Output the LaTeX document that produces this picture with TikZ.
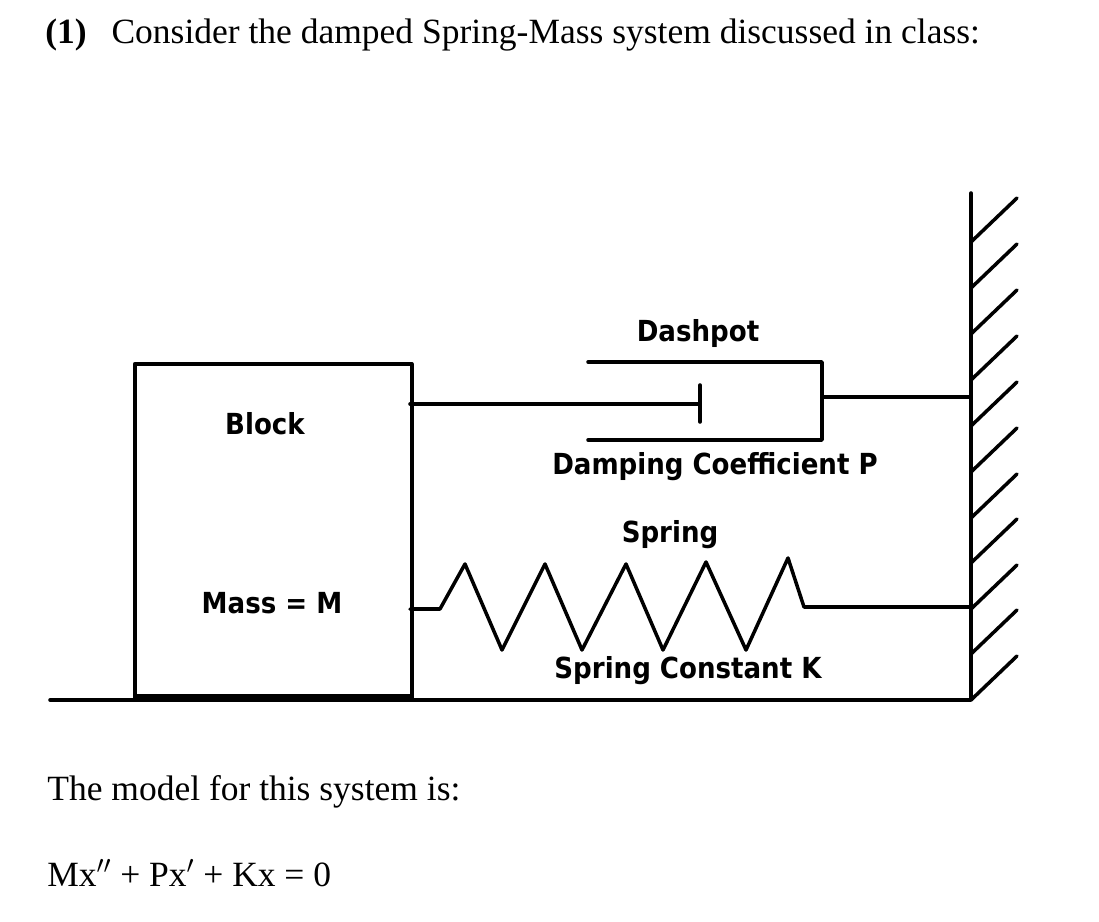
\documentclass[tikz,border=0pt]{standalone}
\usepackage{fontspec}
\setmainfont{Liberation Serif}
\newfontfamily\lab{DejaVu Sans Condensed}
\begin{document}
\begin{tikzpicture}[x=0.02cm,y=-0.02cm,
  ln/.style={line width=2pt,line cap=round,line join=round},
  lbl/.style={font=\lab\bfseries\fontsize{16.5}{19}\selectfont,inner sep=0pt},
  txt/.style={font=\fontsize{20.2}{24}\selectfont,anchor=west,inner sep=0pt}]
\useasboundingbox (0,0) rectangle (1099,922);
\node[txt] (title) at (45,35) {\textbf{(1)}\hspace{0.7em}Consider the damped Spring-Mass system discussed in class:};
% block
\node[draw,ln,minimum width=277*0.02cm,minimum height=335*0.02cm,inner sep=0pt,anchor=north west] (block) at (133,362) {};
\draw[line width=3.5pt] (133,697) -- (410,697);
% ground and wall
\coordinate (g0) at (50,700); \coordinate (g1) at (971,700);
\coordinate (w0) at (971,193);
\draw[ln] (g0) -- (g1) -- (w0);
\foreach \y in {242,288,334,380,426,472,518,563,609,654,700}
  \draw[ln] (971,\y) -- ++(46,-44);
% dashpot
\coordinate (r0) at (410,404); \coordinate (p) at (700,404);
\draw[ln] (r0) -- (p);
\draw[ln] (700,385) -- (700,422);
\draw[ln] (588,362) -- (822,362) -- (822,440) -- (588,440);
\coordinate (c1) at (822,397);
\draw[ln] (c1) -- (971,397);
% spring
\coordinate (s0) at (410,609); \coordinate (s1) at (971,607);
\draw[ln] (s0) -- (440,609) -- (465,564) -- (502,650) -- (545,564) -- (582,650) -- (626,564) -- (663,650) -- (706,562) -- (746,650) -- (788,558) -- (804,607) -- (s1);
% labels
\node[lbl] (dash) at (698,334) {Dashpot};
\node[lbl] (blk) at (265,424) {Block};
\node[lbl] (damp) at (715,467) {Damping Coefficient P};
\node[lbl] (spr) at (670,535) {Spring};
\node[lbl] (mass) at (272,603) {Mass = M};
\node[lbl] (k) at (688,671) {Spring Constant K};
\node[txt] (model) at (47,792) {The model for this system is:};
\node[txt] (eq) at (47,873) {Mx$''$ + Px$'$ + Kx = 0};
\end{tikzpicture}
\end{document}
